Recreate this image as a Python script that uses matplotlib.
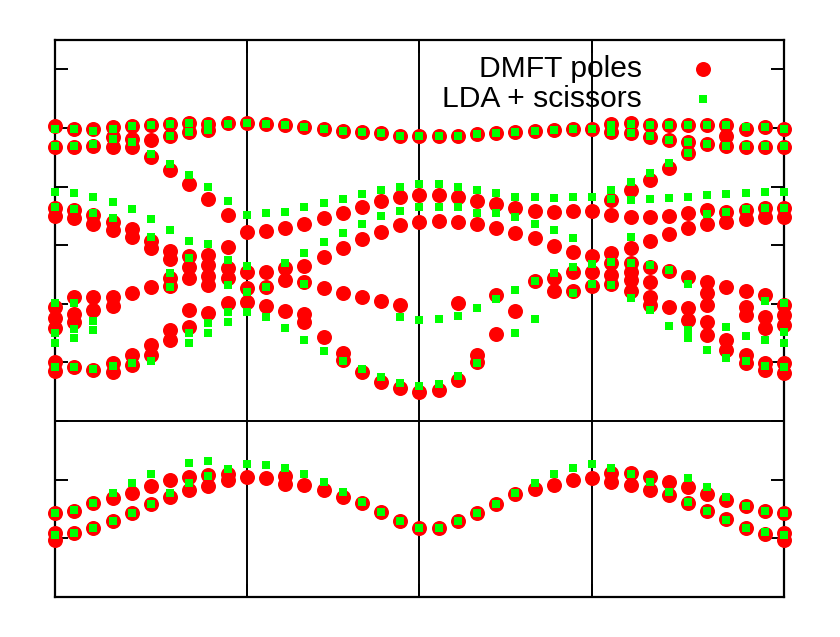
import matplotlib
matplotlib.use("Agg")
import matplotlib.pyplot as plt

# energies (eV), one list per k-point (k = 0 .. 38)
dmft_poles = [
    [5.03, 4.67, 3.63, 3.49, 1.94, 1.76, 1.59, 1.01, 0.85, -1.57, -1.91, -2.03],
    [4.99, 4.67, 3.60, 3.46, 2.11, 1.82, 1.69, 0.92, -1.53, -1.91],
    [4.99, 4.69, 3.51, 3.37, 2.11, 1.89, 0.87, -1.40, -1.82],
    [5.01, 4.84, 4.67, 3.39, 3.26, 2.11, 1.96, 0.99, 0.84, -1.31, -1.70],
    [5.03, 4.82, 4.67, 3.27, 3.14, 2.18, 1.12, 0.95, -1.23, -1.57],
    [5.05, 4.79, 4.50, 3.08, 2.95, 2.28, 1.30, 1.12, -1.11, -1.41],
    [5.06, 4.87, 4.28, 2.90, 2.76, 2.44, 2.30, 1.55, 1.38, -1.01, -1.30],
    [5.08, 4.93, 4.04, 2.81, 2.62, 2.44, 1.89, 1.60, -0.95, -1.18],
    [5.06, 4.96, 3.78, 2.83, 2.66, 2.47, 2.32, 1.84, -0.92, -1.11],
    [5.08, 3.51, 2.97, 2.61, 2.44, 2.01, -0.90, -1.01],
    [5.08, 3.22, 2.54, 2.27, 2.03, -0.95],
    [5.06, 3.24, 2.54, 2.28, 1.96, -0.97],
    [5.05, 3.29, 2.61, 2.40, 1.87, -0.94, -1.07],
    [5.01, 3.36, 2.64, 2.37, 1.82, 1.69, -1.09],
    [4.98, 3.46, 2.80, 2.27, 1.43, -1.18],
    [4.94, 3.55, 2.95, 2.18, 1.16, 1.04, -1.30],
    [4.93, 3.66, 3.10, 2.11, 0.84, -1.40],
    [4.91, 3.75, 3.22, 2.05, 0.66, -1.55],
    [4.87, 3.82, 3.34, 1.98, 0.56, -1.70],
    [4.86, 3.85, 3.39, 0.49, -1.82],
    [4.86, 3.85, 3.41, 0.53, -1.82],
    [4.87, 3.82, 3.39, 2.01, 0.70, -1.70],
    [4.89, 3.75, 3.36, 1.12, 1.01, -1.57],
    [4.91, 3.70, 3.29, 2.15, 1.48, -1.41],
    [4.93, 3.63, 3.20, 1.87, -1.24],
    [4.94, 3.58, 3.12, 2.39, -1.16],
    [4.96, 3.56, 2.98, 2.44, 2.22, -1.09],
    [4.98, 3.58, 2.88, 2.54, 2.22, -1.01],
    [4.99, 3.58, 2.81, 2.54, 2.30, -0.97],
    [5.06, 4.93, 3.77, 3.51, 2.86, 2.69, 2.49, 2.34, -0.89, -1.04],
    [5.08, 4.91, 3.94, 3.48, 2.95, 2.69, 2.54, 2.40, 2.22, -0.89, -1.09],
    [5.05, 4.84, 4.12, 3.48, 3.08, 2.62, 2.37, 2.11, 1.98, -0.95, -1.18],
    [5.05, 4.79, 4.31, 3.49, 3.19, 2.56, 1.94, -1.04, -1.26],
    [5.05, 4.76, 4.57, 3.55, 3.29, 2.45, 1.93, 1.72, -1.12, -1.40],
    [5.05, 4.72, 3.60, 3.36, 2.37, 2.18, 1.98, 1.69, 1.47, -1.24, -1.53],
    [5.05, 4.87, 4.70, 3.56, 3.39, 2.28, 1.38, 1.21, -1.35, -1.67],
    [4.99, 4.67, 3.60, 3.44, 2.22, 1.94, 1.81, 1.12, 0.99, -1.45, -1.82],
    [5.01, 4.67, 3.63, 3.48, 2.15, 1.77, 1.59, 0.99, 0.87, -1.53, -1.93],
    [4.99, 4.67, 3.63, 3.48, 1.98, 1.81, 1.64, 0.99, 0.82, -1.57, -1.91, -2.03],
]

lda_scissors = [
    [4.99, 4.69, 3.90, 3.65, 2.01, 1.50, 1.33, 0.92, -1.57, -1.94],
    [4.98, 4.69, 3.89, 3.61, 2.01, 1.57, 1.41, 0.92, -1.52, -1.91],
    [4.94, 4.72, 3.82, 3.55, 1.70, 1.55, 0.89, -1.40, -1.82],
    [4.99, 4.82, 3.73, 3.46, 0.94, -1.23, -1.70],
    [5.03, 4.76, 3.61, 0.99, -1.06, -1.57],
    [5.05, 4.55, 3.44, 3.14, 1.02, -0.90, -1.41],
    [5.06, 4.87, 4.38, 3.26, 2.52, 2.28, -1.23],
    [5.08, 4.93, 4.19, 3.07, 2.78, 1.50, 1.33, -0.72, -1.06],
    [5.06, 4.96, 3.99, 3.02, 1.67, 1.50, -0.68, -0.94],
    [5.06, 3.75, 2.74, 2.32, 1.86, 1.69, -0.82],
    [5.08, 3.51, 2.64, 2.20, 1.86, -0.73],
    [5.06, 3.55, 2.28, 1.77, -0.75],
    [5.05, 3.56, 2.69, 1.59, -0.80],
    [5.01, 3.65, 2.86, 2.34, 1.38, -0.90],
    [4.98, 3.72, 3.05, 1.19, -1.04],
    [4.94, 3.78, 3.20, 1.02, -1.21],
    [4.93, 3.87, 3.37, 0.89, -1.38],
    [4.91, 3.95, 3.49, 0.75, -1.55],
    [4.87, 3.99, 3.58, 1.77, 0.65, -1.70],
    [4.86, 4.04, 3.65, 1.72, 0.60, -1.82],
    [4.86, 4.04, 3.65, 1.74, 0.63, -1.82],
    [4.87, 3.99, 3.65, 1.79, 0.77, -1.70],
    [4.89, 3.95, 3.55, 1.93, 0.99, -1.57],
    [4.91, 3.89, 3.55, 2.08, -1.41],
    [4.93, 3.83, 3.48, 2.23, 1.50, -1.23],
    [4.94, 3.82, 3.37, 2.39, 1.74, -1.06],
    [4.96, 3.80, 3.26, 2.52, -0.90],
    [4.98, 3.82, 3.12, 2.62, 2.18, -0.80],
    [4.99, 3.83, 2.68, 2.34, -0.73],
    [5.05, 4.93, 3.94, 3.78, 2.71, 2.32, -0.80],
    [5.06, 4.91, 4.07, 3.77, 3.14, 2.69, 2.10, -0.90],
    [5.05, 4.86, 4.23, 3.78, 2.66, 1.89, -1.04],
    [5.05, 4.79, 4.40, 3.80, 2.57, 1.62, -1.21],
    [5.05, 4.76, 4.57, 3.82, 2.34, 1.55, 1.41, -0.97, -1.38],
    [5.05, 4.72, 3.85, 3.53, 1.21, -1.12, -1.53],
    [5.05, 4.70, 3.87, 3.56, 1.60, 1.07, -1.30, -1.69],
    [5.01, 4.69, 3.89, 3.61, 1.45, 1.02, -1.45, -1.82],
    [5.01, 4.69, 3.90, 3.63, 2.05, 1.38, 0.94, -1.53, -1.89],
    [4.99, 4.69, 3.90, 3.63, 2.01, 1.52, 1.33, 0.92, -1.57, -1.94],
]

sym_points = [10, 19, 28]          # high-symmetry k-points (vertical lines)
energy_ticks = [-2, -1, 0, 1, 2, 3, 4, 5, 6]
legend_labels = ["DMFT poles", "LDA + scissors"]

plt.rcParams['font.family'] = ['Liberation Sans', 'DejaVu Sans']

fig = plt.figure(figsize=(8.4, 6.37), dpi=100)
ax = fig.add_axes([55 / 840, 40 / 637, 729 / 840, 557 / 637])


def flatten(cols):
    xs, ys = [], []
    for k, col in enumerate(cols):
        for e in col:
            xs.append(k)
            ys.append(e)
    return xs, ys


xr, yr = flatten(dmft_poles)
xg, yg = flatten(lda_scissors)

ax.plot(xr, yr, 'o', color='#ff0000', ms=10.8, mew=0, clip_on=False, zorder=3)
ax.plot(xg, yg, 's', color='#00ff00', ms=5.6, mew=0, clip_on=False, zorder=4)

for k in sym_points:
    ax.axvline(k, color='black', lw=1.4, zorder=1)
ax.axhline(0, color='black', lw=1.4, zorder=1)

ax.set_xlim(0, len(dmft_poles) - 1)
ax.set_ylim(-3, 6.5)
ax.set_yticks(energy_ticks)
ax.set_xticks(sym_points)
ax.tick_params(direction='in', length=9.5, width=1.4, left=True, right=True,
               top=True, bottom=True, labelleft=False, labelbottom=False)
for sp in ax.spines.values():
    sp.set_linewidth(1.6)

# legend drawn by hand, text right-aligned and markers to the right (gnuplot style)
fig.text(642 / 840, 1 - 69 / 637, legend_labels[0], ha='right', va='center', fontsize=21.6)
fig.text(642 / 840, 1 - 99 / 637, legend_labels[1], ha='right', va='center', fontsize=21.6)
fig.lines.append(plt.Line2D([703 / 840], [1 - 69 / 637], marker='o', color='#ff0000',
                            ms=10.8, mew=0, transform=fig.transFigure))
fig.lines.append(plt.Line2D([703 / 840], [1 - 99 / 637], marker='s', color='#00ff00',
                            ms=5.6, mew=0, transform=fig.transFigure))

fig.savefig('out.png', dpi=100)
